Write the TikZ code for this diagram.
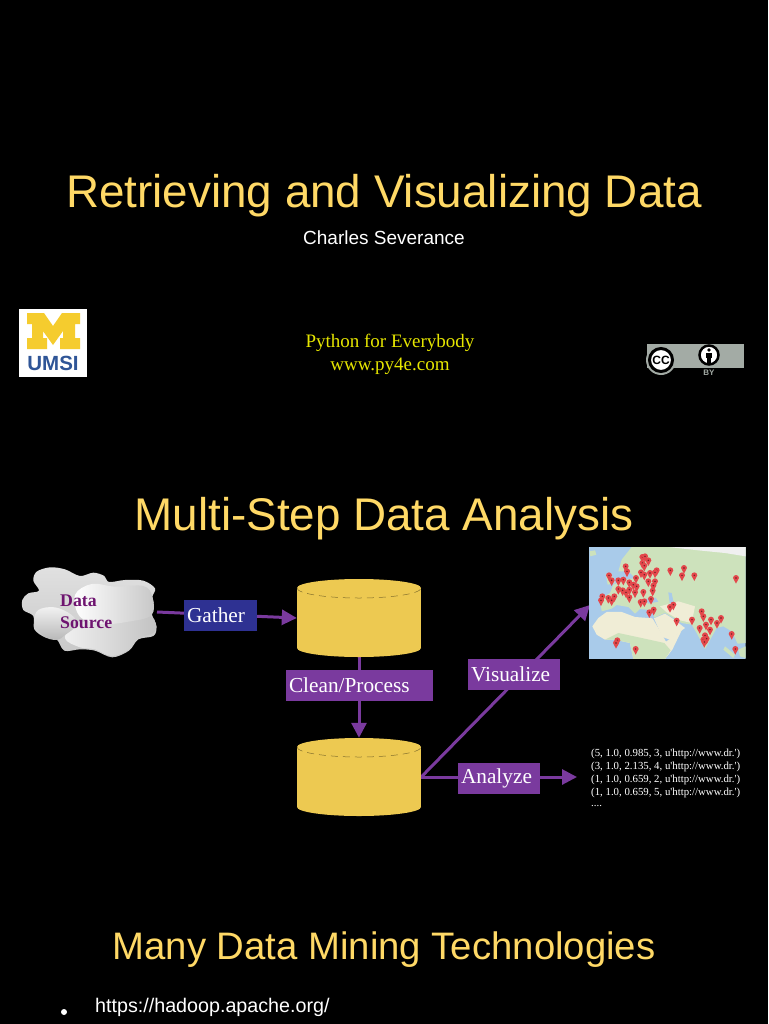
\documentclass[tikz,border=0pt]{standalone}
\usepackage{fontspec}
\setmainfont{Liberation Serif}
\newfontfamily\arialf{Liberation Sans}
\newfontfamily\plainserif{Liberation Serif}
\usetikzlibrary{arrows.meta}
\definecolor{titley}{HTML}{FFD966}
\definecolor{purp}{HTML}{7A3A9E}
\definecolor{gblue}{HTML}{2E3192}
\definecolor{dby}{HTML}{EDC951}
\definecolor{pyy}{HTML}{E6E600}
\definecolor{srct}{HTML}{6E1470}
\definecolor{ocean}{HTML}{A9CBEA}
\definecolor{landg}{HTML}{CDE2BC}
\definecolor{landt}{HTML}{F0EDD6}
\definecolor{pinr}{HTML}{E4474B}
\definecolor{mblue}{HTML}{2F5597}
\definecolor{myel}{HTML}{F5CC2E}
\definecolor{ccg}{HTML}{A3ABA5}
\pgfdeclarelayer{bglayer}
\pgfdeclarelayer{connlayer}
\pgfsetlayers{bglayer,connlayer,main}
\tikzset{
  titletext/.style={font=\arialf\fontsize{#1}{#1}\selectfont,text=titley,inner sep=0},
  stepbox/.style={fill=#1,text=white,font=\fontsize{21.3}{23}\selectfont,minimum height=31pt,inner ysep=0,inner xsep=3pt,align=left},
  flow/.style={draw=purp,line width=3pt,-{Triangle[length=15pt,width=15pt]}},
  dbbox/.style={minimum width=124pt,minimum height=78pt,inner sep=0,draw=none},
  dbfill/.style={fill=dby,draw=none},
  dbrim/.style={draw=black!45!dby,line width=.5pt,dash pattern=on 7pt off 5pt},
  resline/.style={text=white,font=\plainserif\fontsize{10.8}{12}\selectfont,anchor=west,inner sep=0},
  yeltext/.style={text=pyy,font=\fontsize{19}{21}\selectfont,inner sep=0},
  srctext/.style={text=srct,font=\bfseries\fontsize{17.8}{19}\selectfont,anchor=west,inner sep=0},
  mappin/.style={fill=pinr,draw=none},
}
\begin{document}
\begin{tikzpicture}[x=1pt,y=-1pt]
\useasboundingbox (0,0) rectangle (768,1024);
\begin{pgfonlayer}{bglayer}
\fill[black] (0,0) rectangle (768,1024);
\end{pgfonlayer}

% titles
\node[titletext=45.8] (t1) at (384,196) {Retrieving and Visualizing Data};
\node[text=white,font=\arialf\fontsize{19}{21}\selectfont,inner sep=0] (author) at (384,238) {Charles Severance};
\node[yeltext] (py1) at (390,343) {Python for Everybody};
\node[yeltext] (py2) at (390,366) {www.py4e.com};
\node[titletext=45.8] (t2) at (384,519) {Multi-Step Data Analysis};
\node[titletext=38.3] (t3) at (384,950) {Many Data Mining Technologies};
\fill[white] (64,1012) circle (3);
\node[text=white,font=\arialf\fontsize{19.7}{22}\selectfont,anchor=west,inner sep=0] (url) at (95,1007) {https://hadoop.apache.org/};

% UMSI logo
\fill[white] (19,309) rectangle (87,377);
\fill[myel] (27,313) -- (44,313) -- (53,326) -- (62,313) -- (80,313) -- (80,324) -- (75,324) -- (75,338) -- (80,338) -- (80,349) -- (60,349) -- (60,338) -- (63,338) -- (63,331) -- (53,345) -- (43,331) -- (43,338) -- (47,338) -- (47,349) -- (27,349) -- (27,338) -- (32,338) -- (32,324) -- (27,324) -- cycle;
\node[text=mblue,font=\arialf\bfseries\fontsize{20.5}{22}\selectfont,inner sep=0] (umsi) at (53,363) {UMSI};

% CC badge
\fill[ccg] (647,344) rectangle (744,368);
\fill[ccg] (661,360) circle (15);
\fill[white] (661,360) circle (11.5);
\draw[black,line width=3pt] (661,360) circle (11.5);
\node[text=black,font=\arialf\bfseries\fontsize{12}{12}\selectfont,inner sep=0] (cc) at (661,360) {CC};
\fill[white] (709,355) circle (9.5);
\draw[black,line width=2.5pt] (709,355) circle (9.5);
\fill[black] (709,350) circle (1.9);
\fill[black] (706,352.5) rectangle (712,358);
\fill[black] (707.3,358) rectangle (710.7,362.5);
\node[text=ccg,font=\arialf\bfseries\fontsize{8}{8}\selectfont,inner sep=0] (by) at (709,372.5) {BY};

% cloud, in 3x coordinates of a crop
\begin{scope}[shift={(15,560)},x=0.3333pt,y=-0.3333pt]
\shade[top color=black!12,bottom color=black!22]
  plot[smooth cycle,tension=0.55] coordinates {(65,35)(105,22)(150,28)(195,48)(235,38)(268,48)(282,66)(330,60)(385,62)(420,85)(412,110)(416,128)(410,160)(425,200)(415,228)(370,238)(342,272)(292,292)(240,272)(195,268)(148,272)(125,238)(90,232)(58,208)(55,168)(25,150)(22,120)(40,100)(72,92)(55,62)};
\shade[left color=black!6,right color=black!24]
  plot[smooth cycle,tension=0.6] coordinates {(150,235)(180,190)(260,185)(340,175)(410,170)(420,215)(370,235)(340,270)(290,288)(240,268)(195,262)};
\shade[left color=white,right color=black!22]
  plot[smooth cycle,tension=0.6] coordinates {(180,105)(230,72)(300,80)(385,78)(412,110)(410,165)(340,185)(260,192)(195,170)};
\shade[top color=black!5,bottom color=black!28]
  plot[smooth cycle,tension=0.6] coordinates {(58,185)(70,150)(120,142)(170,165)(185,195)(150,225)(125,240)(85,228)};
\end{scope}
\coordinate (cloudpt) at (157,612);
\node[srctext] (ds1) at (60,601) {Data};
\node[srctext] (ds2) at (60,623) {Source};

% cylinders
\node[dbbox] (db1) at (359,618) {};
\node[dbbox] (db2) at (359,777) {};
\foreach \ytop/\ybot in {588/648,747/807} {
  \fill[dbfill] (359,\ytop) ellipse (62 and 9);
  \fill[dbfill] (359,\ybot) ellipse (62 and 9);
  \fill[dbfill] (297,\ytop) rectangle (421,\ybot);
  \draw[dbrim] (297,\ytop) arc (180:0:62 and 10);
}

% free ends
\coordinate (mapin) at (590,605);
\coordinate (resin) at (577,777);

% labels
\node[stepbox=gblue,text width=67pt] (gather) at (220.5,615) {Gather};
\node[stepbox=purp,text width=141pt] (clean) at (359.5,685) {Clean/Process};
\node[stepbox=purp,text width=86pt] (visual) at (514,674) {Visualize};
\node[stepbox=purp,text width=76pt] (analyze) at (499,778) {Analyze};

% connectors pass beneath the labels
\begin{pgfonlayer}{connlayer}
\draw[flow] (cloudpt) -- (db1.west);
\draw[flow] (db1.south) -- (db2.north);
\draw[flow] (db2.east) -- (mapin);
\draw[flow] (db2.east) -- (resin);
\end{pgfonlayer}

% result lines
\node[resline] (r1) at (591,754) {(5, 1.0, 0.985, 3, u'http://www.dr.')};
\node[resline] (r2) at (591,767) {(3, 1.0, 2.135, 4, u'http://www.dr.')};
\node[resline] (r3) at (591,780) {(1, 1.0, 0.659, 2, u'http://www.dr.')};
\node[resline] (r4) at (591,793) {(1, 1.0, 0.659, 5, u'http://www.dr.')};
\node[resline] (r5) at (591,806) {....};

% map, in 3x coordinates of a crop
\begin{scope}[shift={(585,543)},x=0.3333pt,y=-0.3333pt]
\clip (12,12) rectangle (482,348);
\fill[ocean] (12,12) rectangle (482,348);
% Eurasia
\fill[landg] (140,12) -- (482,12) -- (482,300) -- (458,302) -- (440,265) -- (415,250) -- (395,255) -- (360,318) -- (335,270) -- (320,245) -- (290,240) -- (265,225) -- (240,210) -- (207,224) -- (205,202) -- (165,198) -- (150,212) -- (130,192) -- (95,186) -- (80,197) -- (50,205) -- (45,170) -- (75,150) -- (85,125) -- (120,110) -- (150,105) -- (130,85) -- (100,85) -- (110,50) -- cycle;
% Arctic
\fill[black!6] (250,12) -- (482,12) -- (482,40) -- (420,30) -- (340,22) -- cycle;
% UK and Ireland
\fill[landg] (62,92) -- (78,90) -- (90,120) -- (68,125) -- cycle;
% Iceland
\fill[landg] (14,25) -- (30,22) -- (34,35) -- (16,40) -- cycle;
% Seas
\fill[ocean] (178,168) -- (212,164) -- (220,176) -- (190,182) -- cycle;
\fill[ocean] (250,148) -- (260,150) -- (268,190) -- (255,186) -- cycle;
% Arid belts
\fill[landt] (22,250) -- (40,225) -- (65,207) -- (110,207) -- (150,222) -- (202,226) -- (224,262) -- (243,296) -- (290,262) -- (262,320) -- (240,348) -- (145,348) -- (135,300) -- (90,290) -- (60,290) -- (35,275) -- cycle;
\fill[landt] (207,226) -- (240,212) -- (265,228) -- (300,255) -- (255,290) -- (232,282) -- cycle;
\fill[landt] (225,190) -- (280,175) -- (330,190) -- (320,240) -- (285,232) -- (245,208) -- cycle;
% Tropical Africa
\fill[landg] (60,290) -- (90,290) -- (135,300) -- (145,348) -- (240,348) -- (257,322) -- (238,300) -- (170,285) -- (100,270) -- cycle;
% Indonesia
\fill[landg] (420,310) -- (450,335) -- (445,345) -- (415,320) -- cycle;
\fill[landg] (460,320) -- (482,310) -- (482,345) -- (465,340) -- cycle;
% pins
\foreach \px/\py in {172/42,180/40,190/52,172/60,178/68,122/70,126/85,168/88,178/95,195/90,215/82,210/88,256/82,297/75,291/97,328/97,453/105,72/97,80/112,100/112,115/110,133/118,153/105,190/115,210/115,205/128,145/125,155/130,133/140,100/138,113/142,123/148,150/148,175/147,203/143,52/160,48/172,70/165,88/160,80/172,133/163,167/177,178/175,198/168,255/192,265/185,193/208,206/200,275/233,350/205,355/220,321/230,378/230,408/225,396/240,363/245,344/255,375/260,360/277,355/290,365/287,358/297,440/273,451/318,97/292,93/300,152/318} {
  \fill[mappin] (\px,\py+17) -- (\px-9,\py) arc (180:360:9) -- cycle;
  \fill[black!55!pinr] (\px,\py) circle (2.4);
}
\end{scope}
\end{tikzpicture}
\end{document}
